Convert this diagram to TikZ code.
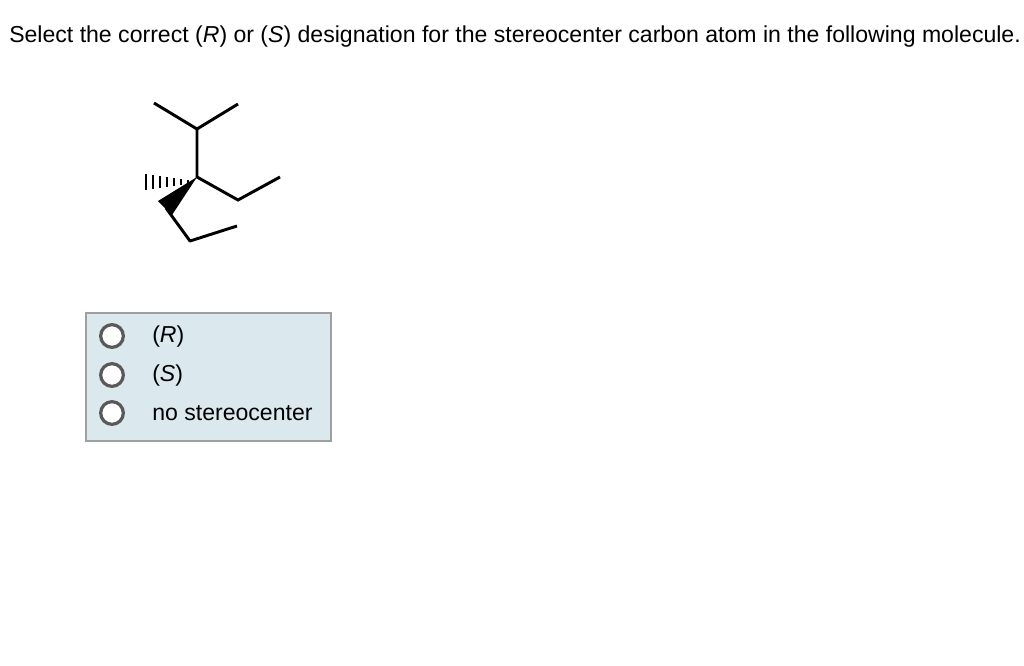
\documentclass[tikz,border=0pt]{standalone}
\usepackage{fontspec}
\setmainfont{Liberation Sans}
\begin{document}
\begin{tikzpicture}[x=0.75pt,y=-0.75pt,
  bond/.style={line width=2.2pt,line cap=butt},
  radio/.style={circle,draw=gray!70!black,line width=2.4pt,fill=white,minimum size=17pt,inner sep=0pt},
  lbl/.style={anchor=west,font=\fontsize{17.3}{20}\selectfont,inner sep=0pt}]
\useasboundingbox (0,0) rectangle (1024,665);
\node[anchor=west,inner sep=0pt,font=\fontsize{17.3}{20}\selectfont] (title) at (9,37) {Select the correct (\textit{R}) or (\textit{S}) designation for the stereocenter carbon atom in the following molecule.};
% molecule
\coordinate (m1) at (154,103);
\coordinate (m2) at (238,104);
\coordinate (ch) at (197,129);
\coordinate (c) at (197,177);
\coordinate (e1) at (238,200);
\coordinate (e2) at (280,177);
\coordinate (w) at (166,208);
\coordinate (p1) at (190,241);
\coordinate (p2) at (237,226);
\draw[bond] (m1) -- (ch) -- (m2);
\draw[bond] (ch) -- (c) -- (e1) -- (e2);
\draw[bond,line join=round] (w) -- (p1) -- (p2);
\fill (c) -- (158,201) -- (172,215) -- cycle;
\foreach \x/\h in {146/8,153/7,160/6,167/5,174/4,181/3,188/2}
  \draw[line width=1.8pt] (\x,182-\h) -- (\x,182+\h);
% answer box
\node[draw=gray!75,line width=1.5pt,fill={rgb,255:red,219;green,233;blue,238},minimum width=183.5pt,minimum height=96pt,inner sep=0pt,anchor=north west] (box) at (85,312) {};
\node[radio] (r1) at (112,336) {};
\node[radio] (r2) at (112,375) {};
\node[radio] (r3) at (112,413) {};
\node[lbl] (t1) at (152,337) {(\textit{R})};
\node[lbl] (t2) at (152,376) {(\textit{S})};
\node[lbl] (t3) at (152,413) {no stereocenter};
\end{tikzpicture}
\end{document}
